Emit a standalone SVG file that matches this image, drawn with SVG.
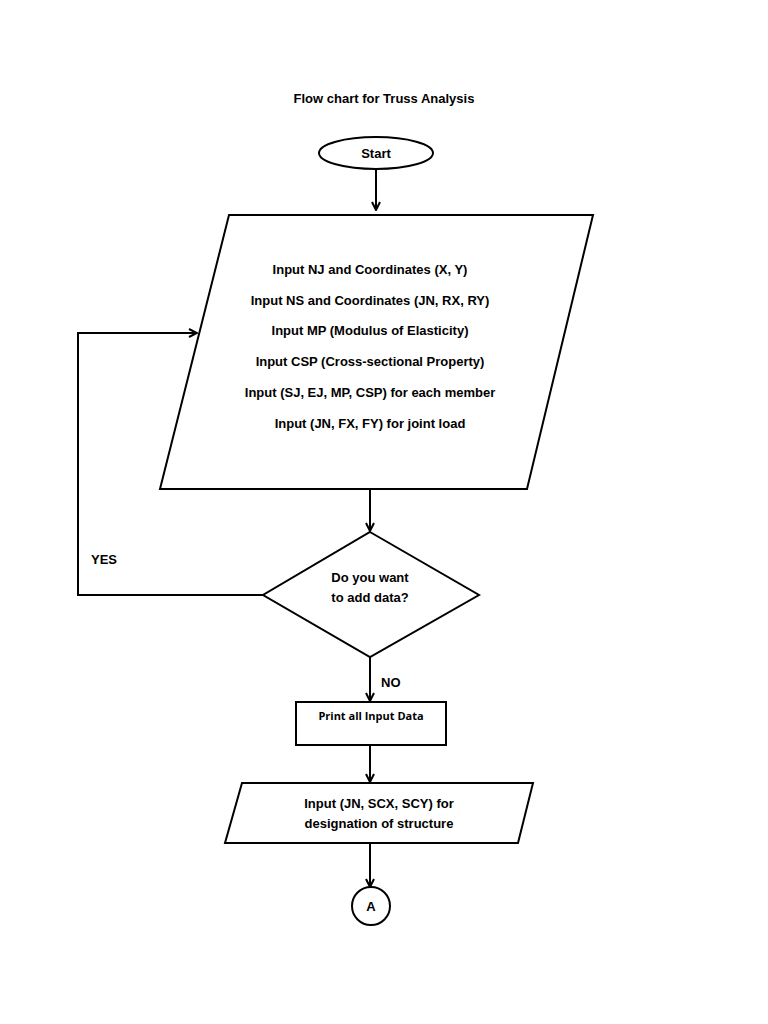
<svg xmlns="http://www.w3.org/2000/svg" width="768" height="1024" viewBox="0 0 768 1024">
<style>
.shape{fill:#fff;stroke:#000;stroke-width:2}
.conn{fill:none;stroke:#000;stroke-width:2}
text{font-family:"Liberation Sans",Arial,sans-serif;font-weight:bold;font-size:13px;fill:#000;text-anchor:middle}
.small{font-family:"Open Sans","Noto Sans",sans-serif;font-size:11px}
.lbl{text-anchor:start}
</style>
<defs>
<marker id="arr" viewBox="0 0 10 10" refX="9" refY="5" markerWidth="10" markerHeight="10" orient="auto" markerUnits="userSpaceOnUse">
<path d="M1,1 L9,5 L1,9" fill="none" stroke="#000" stroke-width="2"/>
</marker>
</defs>
<rect width="768" height="1024" fill="#fff"/>
<text x="384" y="103">Flow chart for Truss Analysis</text>
<g id="connectors">
<line class="conn" x1="376" y1="169" x2="376" y2="210" marker-end="url(#arr)"/>
<polyline class="conn" points="263,595 78,595 78,333 197,333" marker-end="url(#arr)"/>
<line class="conn" x1="370" y1="489" x2="370" y2="531" marker-end="url(#arr)"/>
<line class="conn" x1="370" y1="657" x2="370" y2="701" marker-end="url(#arr)"/>
<line class="conn" x1="370" y1="745" x2="370" y2="782" marker-end="url(#arr)"/>
<line class="conn" x1="370" y1="843" x2="370" y2="887" marker-end="url(#arr)"/>
<text class="lbl" x="91" y="564">YES</text>
<text class="lbl" x="381" y="687">NO</text>
</g>
<g id="start">
<ellipse class="shape" cx="376" cy="153" rx="57" ry="16"/>
<text x="376" y="158">Start</text>
</g>
<g id="input1">
<polygon class="shape" points="229,215 593,215 527,489 160,489"/>
<text x="370" y="274">Input NJ and Coordinates (X, Y)</text>
<text x="370" y="305">Input NS and Coordinates (JN, RX, RY)</text>
<text x="370" y="335">Input MP (Modulus of Elasticity)</text>
<text x="370" y="366">Input CSP (Cross-sectional Property)</text>
<text x="370" y="397">Input (SJ, EJ, MP, CSP) for each member</text>
<text x="370" y="428">Input (JN, FX, FY) for joint load</text>
</g>
<g id="decision">
<polygon class="shape" points="370,532 479,595 370,657 263,595"/>
<text x="370" y="582">Do you want</text>
<text x="370" y="602">to add data?</text>
</g>
<g id="print">
<rect class="shape" x="296" y="702" width="150" height="43"/>
<text class="small" x="371" y="720">Print all Input Data</text>
</g>
<g id="input2">
<polygon class="shape" points="242,783 533,783 518,843 225,843"/>
<text x="379" y="808">Input (JN, SCX, SCY) for</text>
<text x="379" y="828">designation of structure</text>
</g>
<g id="connA">
<circle class="shape" cx="371" cy="906" r="19"/>
<text x="371" y="911">A</text>
</g>
</svg>
